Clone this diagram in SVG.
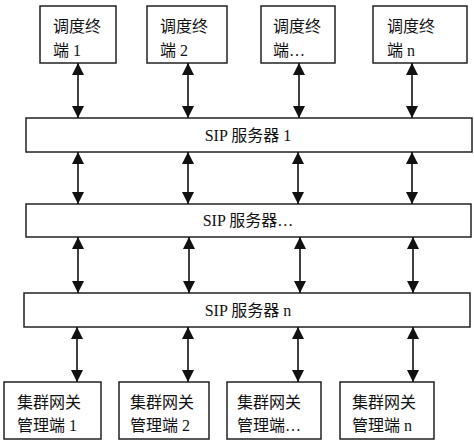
<svg xmlns="http://www.w3.org/2000/svg" width="474" height="440" viewBox="0 0 474 440">
<style>
.box{fill:#fff;stroke:#222;stroke-width:1.5}
.t{font-family:"Liberation Serif","Noto Sans CJK SC",serif;font-size:16px;fill:#111}
.c{text-anchor:middle}
.ln{stroke:#111;stroke-width:1.6;fill:none;marker-start:url(#a);marker-end:url(#a)}
</style>
<defs>
<marker id="a" markerUnits="userSpaceOnUse" markerWidth="12" markerHeight="12" refX="10" refY="5" orient="auto-start-reverse" viewBox="0 0 10 10">
<path d="M0,0 L10,5 L0,10 Z" fill="#111"/>
</marker>
</defs>
<g id="t1"><rect class="box" x="40" y="6" width="76" height="57"/><text class="t" x="53" y="32">调度终</text><text class="t" x="53" y="56">端 1</text></g>
<g id="t2"><rect class="box" x="147" y="6" width="80" height="57"/><text class="t" x="160" y="32">调度终</text><text class="t" x="160" y="56">端 2</text></g>
<g id="t3"><rect class="box" x="261" y="6" width="74" height="57"/><text class="t" x="273" y="32">调度终</text><text class="t" x="273" y="56">端…</text></g>
<g id="t4"><rect class="box" x="373" y="6" width="94" height="57"/><text class="t" x="387" y="32">调度终</text><text class="t" x="387" y="56">端 n</text></g>
<g id="s1"><rect class="box" x="26" y="118" width="446" height="34"/><text class="t c" x="248" y="141">SIP 服务器 1</text></g>
<g id="s2"><rect class="box" x="26" y="204" width="445" height="33"/><text class="t c" x="248" y="226">SIP 服务器…</text></g>
<g id="s3"><rect class="box" x="24" y="293" width="446" height="34"/><text class="t c" x="248" y="316">SIP 服务器 n</text></g>
<g id="g1"><rect class="box" x="4" y="382" width="97" height="57"/><text class="t" x="17" y="408">集群网关</text><text class="t" x="17" y="431">管理端 1</text></g>
<g id="g2"><rect class="box" x="119" y="382" width="90" height="57"/><text class="t" x="130" y="408">集群网关</text><text class="t" x="130" y="431">管理端 2</text></g>
<g id="g3"><rect class="box" x="227" y="382" width="94" height="57"/><text class="t" x="237" y="408">集群网关</text><text class="t" x="237" y="431">管理端…</text></g>
<g id="g4"><rect class="box" x="340" y="382" width="94" height="57"/><text class="t" x="352" y="408">集群网关</text><text class="t" x="352" y="431">管理端 n</text></g>
<g id="connectors">
<line class="ln" x1="78" y1="63" x2="78" y2="118"/>
<line class="ln" x1="188" y1="63" x2="188" y2="118"/>
<line class="ln" x1="299" y1="63" x2="299" y2="118"/>
<line class="ln" x1="412" y1="63" x2="412" y2="118"/>
<line class="ln" x1="78" y1="152" x2="78" y2="204"/>
<line class="ln" x1="188" y1="152" x2="188" y2="204"/>
<line class="ln" x1="298" y1="152" x2="298" y2="204"/>
<line class="ln" x1="412" y1="152" x2="412" y2="204"/>
<line class="ln" x1="78" y1="237" x2="78" y2="293"/>
<line class="ln" x1="189" y1="237" x2="189" y2="293"/>
<line class="ln" x1="300" y1="237" x2="300" y2="293"/>
<line class="ln" x1="413" y1="237" x2="413" y2="293"/>
<line class="ln" x1="77" y1="327" x2="77" y2="382"/>
<line class="ln" x1="188" y1="327" x2="188" y2="382"/>
<line class="ln" x1="298" y1="327" x2="298" y2="382"/>
<line class="ln" x1="413" y1="327" x2="413" y2="382"/>
</g>
</svg>
